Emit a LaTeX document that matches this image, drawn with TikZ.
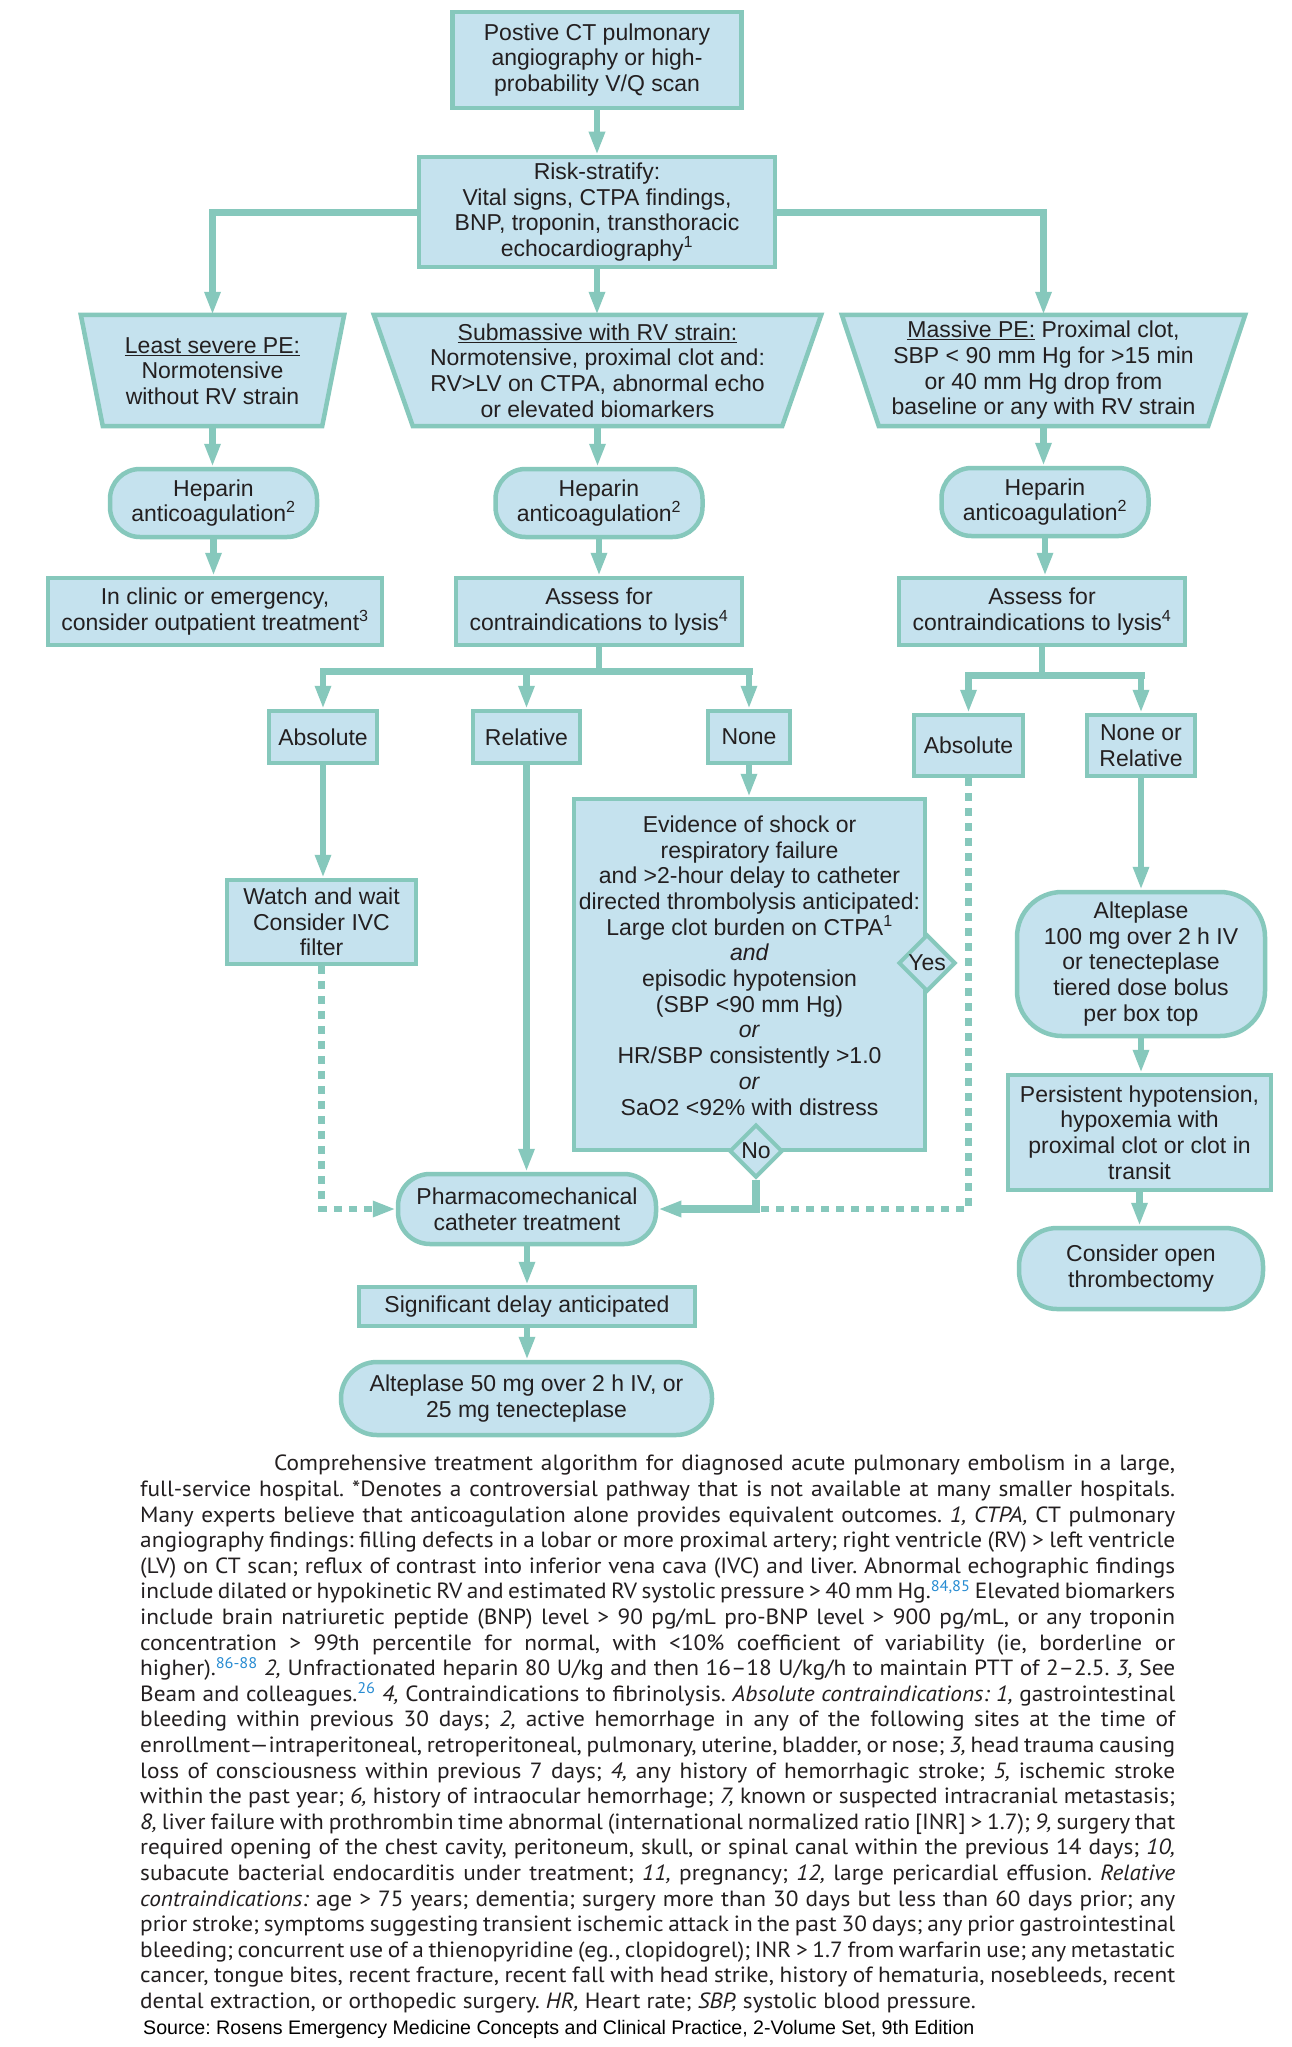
\documentclass[tikz,border=0pt]{standalone}
\usepackage{fontspec}
\setmainfont{Liberation Sans}
\newfontfamily\capfont[FakeStretch=1.06]{PT Sans}
\usetikzlibrary{arrows.meta,calc,shapes.geometric}
\definecolor{bfill}{RGB}{197,226,238}
\definecolor{bline}{RGB}{134,200,188}
\definecolor{txt}{RGB}{35,31,32}
\definecolor{reflink}{RGB}{40,140,210}
\newcommand{\dfont}{\fontsize{23}{25.7}\selectfont}
\newcommand{\rf}[1]{\textsuperscript{\textcolor{reflink}{#1}}}
\frenchspacing
\begin{document}
\begin{tikzpicture}[x=1pt,y=-1pt,
  box/.style={draw=bline, fill=bfill, line width=4.5pt, text=txt, align=center, inner sep=2pt, font=\dfont},
  txtnode/.style={text=txt, align=center, inner sep=0pt, font=\dfont},
  ghost/.style={inner sep=0pt, draw=none},
  trapfill/.style={draw=bline, fill=bfill, line width=4.5pt, line join=miter},
  dia/.style={diamond, aspect=1, draw=bline, fill=bfill, line width=4pt, inner sep=0pt, text=txt, font=\dfont},
  conn/.style={draw=bline, line width=6.5pt, -{Triangle[length=23pt,width=15pt]}},
  plain/.style={draw=bline, line width=6.5pt},
  hl/.style={draw=bline, line width=7pt, line cap=rect},
  dl/.style={draw=bline, line width=6.5pt, dash pattern=on 8pt off 7pt},
]
\path[use as bounding box, fill=white] (0,0) rectangle (1291,2047);

% top boxes
\node[box, minimum width=289pt, minimum height=96pt] (top) at (597,60) {Postive CT pulmonary\\angiography or high-\\probability V/Q scan};
\node[box, minimum width=356pt, minimum height=110pt] (risk) at (597,212) {Risk-stratify:\\Vital signs, CTPA findings,\\BNP, troponin, transthoracic\\echocardiography\textsuperscript{1}};

% trapezoids
\node[ghost, minimum width=263pt, minimum height=111pt] (tL) at (212.5,370.5) {};
\node[ghost, minimum width=447pt, minimum height=111pt] (tM) at (597.5,370.5) {};
\node[ghost, minimum width=403pt, minimum height=111pt] (tR) at (1043.5,370.5) {};
\filldraw[trapfill] (tL.north west) -- (tL.north east) -- ($(tL.south east)+(-22,0)$) -- ($(tL.south west)+(22,0)$) -- cycle;
\filldraw[trapfill] (tM.north west) -- (tM.north east) -- ($(tM.south east)+(-39,0)$) -- ($(tM.south west)+(39,0)$) -- cycle;
\filldraw[trapfill] (tR.north west) -- (tR.north east) -- ($(tR.south east)+(-37,0)$) -- ($(tR.south west)+(37,0)$) -- cycle;
\node[txtnode] (tLt) at (212.5,371) {\underline{Least severe PE:}\\Normotensive\\without RV strain};
\node[txtnode] (tMt) at (597.5,370.5) {\underline{Submassive with RV strain:}\\Normotensive, proximal clot and:\\RV>LV on CTPA, abnormal echo\\or elevated biomarkers};
\node[txtnode] (tRt) at (1043.5,370.5) {\underline{Massive PE:} Proximal clot,\\SBP < 90 mm Hg for >15 min\\or 40 mm Hg drop from\\baseline or any with RV strain};

% heparin
\node[box, rounded corners=30pt, minimum width=207pt, minimum height=68pt] (hL) at (213.5,503) {Heparin\\anticoagulation\textsuperscript{2}};
\node[box, rounded corners=30pt, minimum width=207pt, minimum height=68pt] (hM) at (599,503) {Heparin\\anticoagulation\textsuperscript{2}};
\node[box, rounded corners=30pt, minimum width=207pt, minimum height=68pt] (hR) at (1045,502) {Heparin\\anticoagulation\textsuperscript{2}};

% row 2
\node[box, minimum width=334pt, minimum height=67pt] (cL) at (215,611.5) {In clinic or emergency,\\consider outpatient treatment\textsuperscript{3}};
\node[box, minimum width=286pt, minimum height=67pt] (aM) at (599,611.5) {Assess for\\contraindications to lysis\textsuperscript{4}};
\node[box, minimum width=286pt, minimum height=67pt] (aR) at (1042,611.5) {Assess for\\contraindications to lysis\textsuperscript{4}};

% small boxes
\node[box, minimum width=108pt, minimum height=52pt] (absL) at (323,737) {Absolute};
\node[box, minimum width=107pt, minimum height=52pt] (relM) at (526.5,737) {Relative};
\node[box, minimum width=82pt, minimum height=52pt] (noneM) at (749,737) {None};
\node[box, minimum width=109pt, minimum height=61pt] (absR) at (968.5,745.5) {Absolute};
\node[box, minimum width=108pt, minimum height=61pt] (nrR) at (1141,745.5) {None or\\Relative};

% evidence
\node[box, minimum width=351pt, minimum height=351pt] (ev) at (749.5,974.5) {};
\node[txtnode] (evt) at (749.5,965.5) {Evidence of shock or\\respiratory failure\\and >2-hour delay to catheter\\directed thrombolysis anticipated:\\Large clot burden on CTPA\textsuperscript{1}\\\textit{and}\\episodic hypotension\\(SBP <90 mm Hg)\\\textit{or}\\HR/SBP consistently >1.0\\\textit{or}\\SaO2 <92\% with distress};
\node[dia, minimum width=57pt, minimum height=57pt] (yes) at (927,963) {\makebox[0pt]{Yes}};
\node[dia, minimum width=53pt, minimum height=53pt] (no) at (756,1151) {\makebox[0pt]{No}};

% left lower
\node[box, minimum width=189pt, minimum height=84pt] (watch) at (321.5,922) {Watch and wait\\Consider IVC\\filter};
\node[box, rounded corners=32pt, minimum width=258pt, minimum height=70pt] (pharm) at (527,1209) {Pharmacomechanical\\catheter treatment};
\node[box, minimum width=336pt, minimum height=39pt] (sig) at (527,1306.5) {Significant delay anticipated};
\node[box, rounded corners=36pt, minimum width=371pt, minimum height=73pt] (alt50) at (526.5,1398.5) {Alteplase 50 mg over 2 h IV, or\\25 mg tenecteplase};

% right lower
\node[box, rounded corners=45pt, minimum width=248pt, minimum height=144pt] (altR) at (1141,964) {Alteplase\\100 mg over 2 h IV\\or tenecteplase\\tiered dose bolus\\per box top};
\node[box, minimum width=263pt, minimum height=115pt] (pers) at (1139.5,1132.5) {Persistent hypotension,\\hypoxemia with\\proximal clot or clot in\\transit};
\node[box, rounded corners=38pt, minimum width=244pt, minimum height=81pt] (open) at (1141,1268.5) {Consider open\\thrombectomy};

% connectors
\draw[conn] (top.south) -- (top.south |- risk.north);
\draw[hl] (risk.west) -- (risk.west -| tL.north);
\draw[conn] (risk.west -| tL.north) -- (tL.north);
\draw[hl] (risk.east) -- (risk.east -| tR.north);
\draw[conn] (risk.east -| tR.north) -- (tR.north);
\draw[conn] (risk.south) -- (risk.south |- tM.north);

\draw[conn] (tL.south) -- (tL.south |- hL.north);
\draw[conn] (tM.south) -- (tM.south |- hM.north);
\draw[conn] (tR.south) -- (tR.south |- hR.north);
\draw[conn] (hL.south) -- (hL.south |- cL.north);
\draw[conn] (hM.south) -- (hM.south |- aM.north);
\draw[conn] (hR.south) -- (hR.south |- aR.north);

\coordinate (bM) at (599,671);
\draw[plain] (aM.south) -- (aM.south |- bM);
\draw[hl] (absL.north |- bM) -- (noneM.north |- bM);
\draw[conn] (absL.north |- bM) -- (absL.north);
\draw[conn] (relM.north |- bM) -- (relM.north);
\draw[conn] (noneM.north |- bM) -- (noneM.north);

\coordinate (bR) at (1042,675);
\draw[plain] (aR.south) -- (aR.south |- bR);
\draw[hl] (absR.north |- bR) -- (nrR.north |- bR);
\draw[conn] (absR.north |- bR) -- (absR.north);
\draw[conn] (nrR.north |- bR) -- (nrR.north);

\draw[conn] (absL.south) -- (absL.south |- watch.north);
\draw[conn] (relM.south) -- (relM.south |- pharm.north);
\draw[conn] (noneM.south) -- (noneM.south |- ev.north);

\draw[dl, -{Triangle[length=23pt,width=15pt]}] (watch.south) |- (pharm.west);
\coordinate (j) at (no.south |- pharm.east);
\draw[dl] (absR.south) |- (j);
\draw[draw=bline, line width=7.5pt, -{Triangle[length=23pt,width=15pt]}] (no.south) -- (j) -- (pharm.east);

\draw[conn] (nrR.south) -- (nrR.south |- altR.north);
\draw[conn] (altR.south) -- (altR.south |- pers.north);
\draw[conn] (pers.south) -- (pers.south |- open.north);
\draw[conn] (pharm.south) -- (pharm.south |- sig.north);
\draw[conn] (sig.south) -- (sig.south |- alt50.north);

% caption
\node[anchor=north west, text width=1035pt, align=justify, inner sep=0pt, text=txt,
      font=\capfont\fontsize{22}{25.6}\selectfont\frenchspacing] (cap) at (140,1455) {%
\hspace*{134pt}Comprehensive treatment algorithm for diagnosed acute pulmonary embolism in a large,\linebreak
full-service hospital. *Denotes a controversial pathway that is not available at many smaller hospitals.\linebreak
Many experts believe that anticoagulation alone provides equivalent outcomes. \textit{1, CTPA,} CT pulmonary\linebreak
angiography findings: filling defects in a lobar or more proximal artery; right ventricle (RV) > left ventricle\linebreak
(LV) on CT scan; reflux of contrast into inferior vena cava (IVC) and liver. Abnormal echographic findings\linebreak
include dilated or hypokinetic RV and estimated RV systolic pressure > 40 mm Hg.\rf{84,85} Elevated biomarkers\linebreak
include brain natriuretic peptide (BNP) level > 90 pg/mL pro-BNP level > 900 pg/mL, or any troponin\linebreak
concentration > 99th percentile for normal, with <10\% coefficient of variability (ie, borderline or\linebreak
higher).\rf{86-88} \textit{2,} Unfractionated heparin 80 U/kg and then 16–18 U/kg/h to maintain PTT of 2–2.5. \textit{3,} See\linebreak
Beam and colleagues.\rf{26} \textit{4,} Contraindications to fibrinolysis. \textit{Absolute contraindications: 1,} gastrointestinal\linebreak
bleeding within previous 30 days; \textit{2,} active hemorrhage in any of the following sites at the time of\linebreak
enrollment—intraperitoneal, retroperitoneal, pulmonary, uterine, bladder, or nose; \textit{3,} head trauma causing\linebreak
loss of consciousness within previous 7 days; \textit{4,} any history of hemorrhagic stroke; \textit{5,} ischemic stroke\linebreak
within the past year; \textit{6,} history of intraocular hemorrhage; \textit{7,} known or suspected intracranial metastasis;\linebreak
\textit{8,} liver failure with prothrombin time abnormal (international normalized ratio [INR] > 1.7); \textit{9,} surgery that\linebreak
required opening of the chest cavity, peritoneum, skull, or spinal canal within the previous 14 days; \textit{10,}\linebreak
subacute bacterial endocarditis under treatment; \textit{11,} pregnancy; \textit{12,} large pericardial effusion. \textit{Relative}\linebreak
\textit{contraindications:} age > 75 years; dementia; surgery more than 30 days but less than 60 days prior; any\linebreak
prior stroke; symptoms suggesting transient ischemic attack in the past 30 days; any prior gastrointestinal\linebreak
bleeding; concurrent use of a thienopyridine (eg., clopidogrel); INR > 1.7 from warfarin use; any metastatic\linebreak
cancer, tongue bites, recent fracture, recent fall with head strike, history of hematuria, nosebleeds, recent\linebreak
dental extraction, or orthopedic surgery. \textit{HR,} Heart rate; \textit{SBP,} systolic blood pressure.};
\node[anchor=west, inner sep=0pt, text=black, font=\fontsize{19.6}{22}\selectfont\frenchspacing] (src) at (143,2029) {Source: Rosens Emergency Medicine Concepts and Clinical Practice, 2-Volume Set, 9th Edition};
\end{tikzpicture}
\end{document}
